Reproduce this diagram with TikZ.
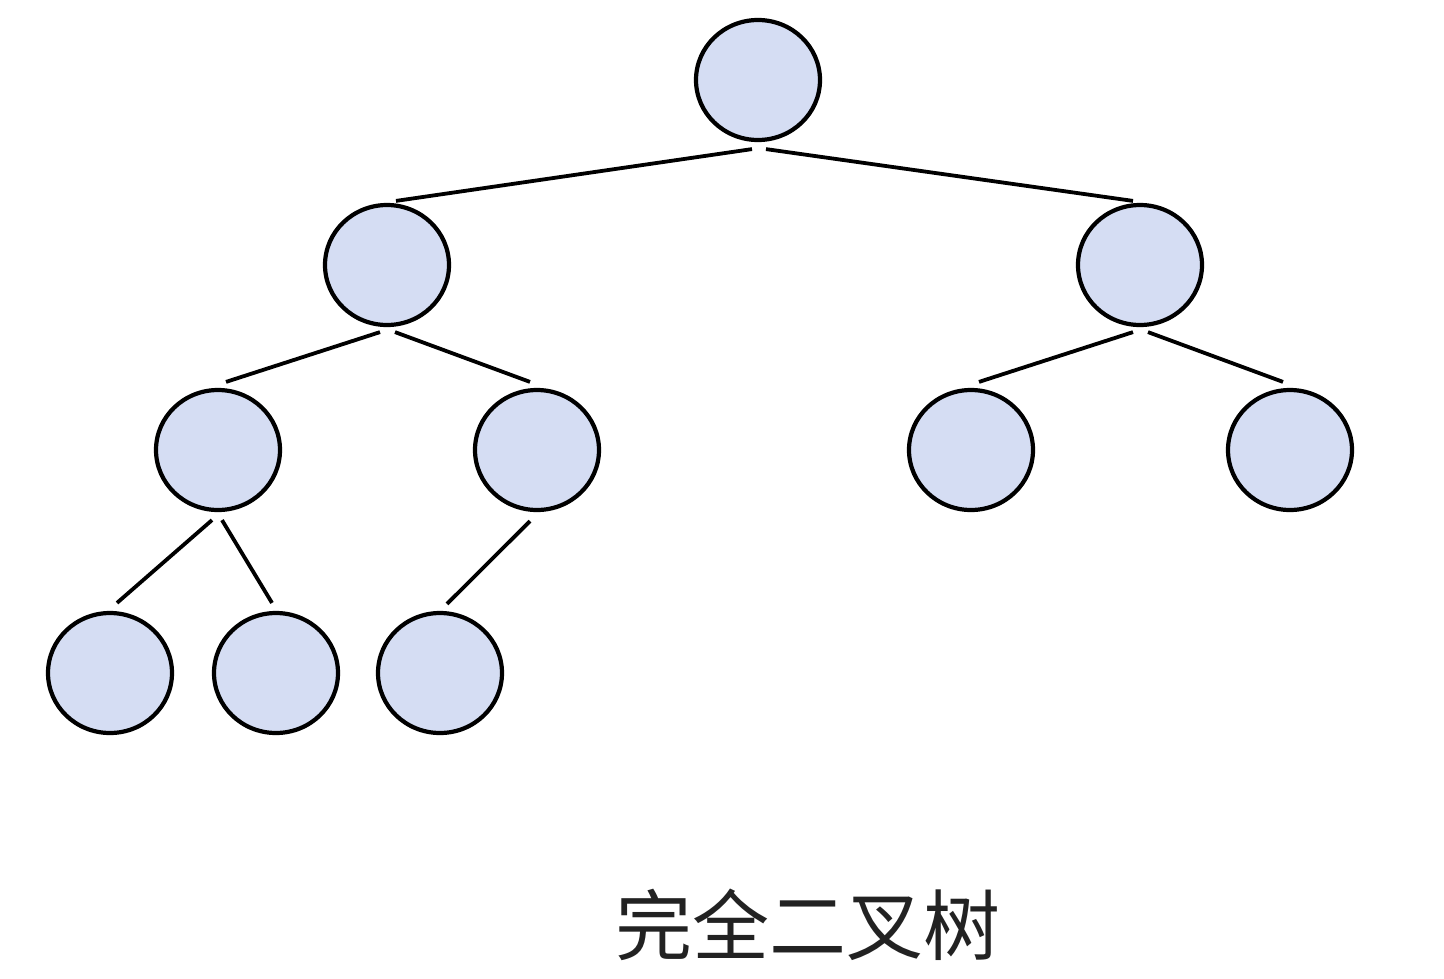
\documentclass[tikz,border=0pt]{standalone}
\usepackage{fontspec}
\newfontfamily\cjk{Noto Sans CJK SC}
\usetikzlibrary{calc,shapes.geometric}
\definecolor{nodefill}{HTML}{D5DDF3}
\definecolor{txt}{HTML}{222222}
\begin{document}
\begin{tikzpicture}[x=1pt,y=-1pt,
  tnode/.style={ellipse,draw=black,line width=4.2pt,fill=nodefill,minimum width=124pt,minimum height=120pt,inner sep=0pt},
  edge/.style={draw=black,line width=3.8pt}]
\useasboundingbox (0,0) rectangle (1444,978);
\node[tnode] (r) at (758,80) {};
\node[tnode] (a) at (387,265) {};
\node[tnode] (b) at (1140,265) {};
\node[tnode] (aa) at (218,450) {};
\node[tnode] (ab) at (537,450) {};
\node[tnode] (ba) at (971,450) {};
\node[tnode] (bb) at (1290,450) {};
\node[tnode] (aaa) at (110,673) {};
\node[tnode] (aab) at (276,673) {};
\node[tnode] (aba) at (440,673) {};
\draw[edge] ($(r.south)+(-6,7)$) -- ($(a.north)+(9,-2)$);
\draw[edge] ($(r.south)+(8,7)$) -- ($(b.north)+(-7,-2)$);
\draw[edge] ($(a.south)+(-7,5)$) -- ($(aa.north)+(8,-6)$);
\draw[edge] ($(a.south)+(8,5)$) -- ($(ab.north)+(-7,-6)$);
\draw[edge] ($(b.south)+(-7,5)$) -- ($(ba.north)+(8,-6)$);
\draw[edge] ($(b.south)+(8,5)$) -- ($(bb.north)+(-7,-6)$);
\draw[edge] ($(aa.south)+(-6,8)$) -- ($(aaa.north)+(7,-8)$);
\draw[edge] ($(aa.south)+(4,8)$) -- ($(aab.north)+(-4,-8)$);
\draw[edge] ($(ab.south)+(-7,9)$) -- ($(aba.north)+(7,-7)$);
\node[text=txt,font=\cjk\fontsize{77}{82}\selectfont,inner sep=0pt] (title) at (808,925) {完全二叉树};
\end{tikzpicture}
\end{document}
